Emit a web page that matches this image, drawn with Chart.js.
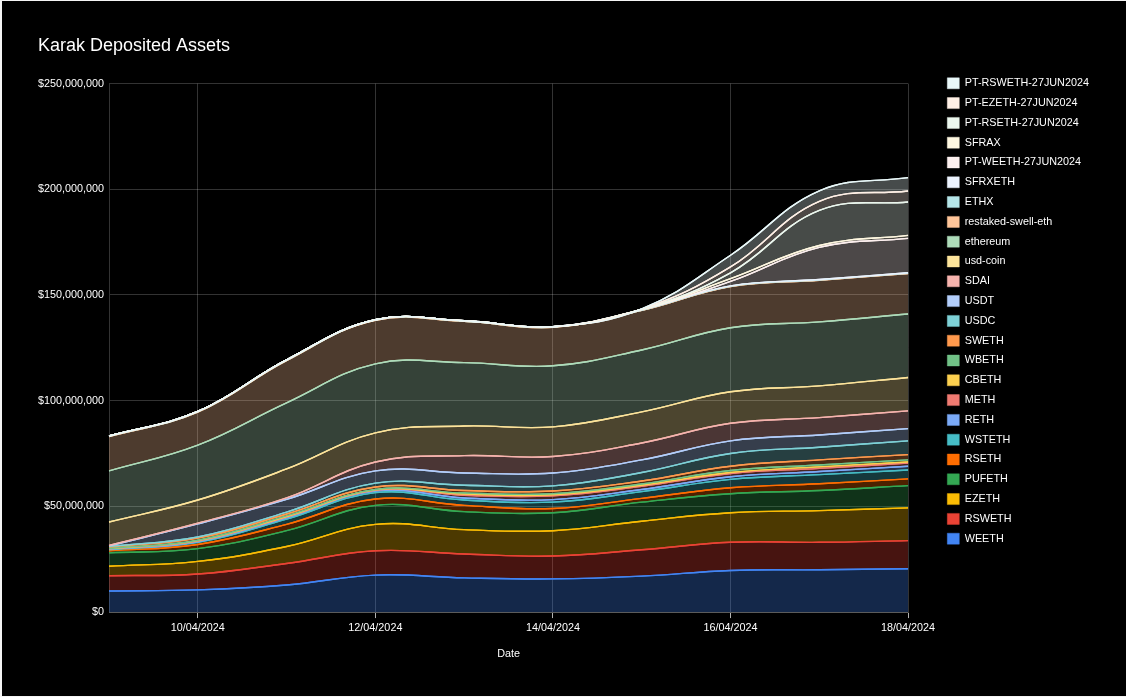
<!DOCTYPE html>
<html lang="en">
<head>
  <meta charset="UTF-8" />
  <title>Karak Deposited Assets</title>
  <script src="https://cdn.jsdelivr.net/npm/chart.js"></script>
  <style>
    html, body { margin: 0; background: #f4f4f4; overflow: hidden; }
    #wrap { position: absolute; left: 2px; top: 1px; width: 1124px; height: 695px; background: #000; }
    canvas { display: block; }
  </style>
</head>
<body>
  <div id="wrap"><canvas id="karakChart" width="1124" height="695"></canvas></div>

  <script>
    const dates = ["09/04/2024", "10/04/2024", "11/04/2024", "12/04/2024", "13/04/2024", "14/04/2024", "15/04/2024", "16/04/2024", "17/04/2024", "18/04/2024"];
    const yTicks = ["$0", "$50,000,000", "$100,000,000", "$150,000,000", "$200,000,000", "$250,000,000"];

    // deposited value per asset, in millions of dollars
    const WEETH = [10, 10.5, 12.8, 17.5, 16.2, 15.7, 17, 19.7, 20, 20.5];
    const RSWETH = [7.2, 7.5, 10.2, 11.5, 11.3, 10.8, 12.5, 13.3, 13, 13.3];
    const EZETH = [4.5, 6, 8, 12.5, 11.5, 12, 13.5, 14, 15, 15.5];
    const PUFETH = [6.3, 6, 7.5, 9, 8.5, 8.5, 9, 9, 9.5, 10.5];
    const RSETH = [1, 2, 3, 3, 3, 2, 1.8, 2.8, 3.2, 3.2];
    const WSTETH = [0.5, 1, 2.5, 3, 2.5, 3, 3.2, 4, 4.3, 4.2];
    const RETH = [0.2, 0.3, 0.6, 0.8, 1, 1.2, 1, 1.2, 1.5, 1.8];
    const METH = [0.2, 0.3, 0.4, 0.3, 1.3, 1.8, 1.5, 1.5, 1.5, 1.5];
    const CBETH = [0.1, 0.2, 0.2, 0.2, 0.5, 0.5, 0.5, 0.5, 0.7, 0.5];
    const WBETH = [0.1, 0.2, 0.3, 0.2, 0.5, 0.5, 0.6, 1, 0.9, 1];
    const SWETH = [0.7, 1, 0.9, 1.2, 1.2, 1.3, 1.4, 2, 2.4, 2.5];
    const USDC = [0.2, 0.5, 0.9, 1.8, 2.5, 2.4, 4, 6, 6, 6.5];
    const USDT = [0.3, 6.2, 6, 5.8, 5.8, 6.1, 6, 6, 5.8, 5.8];
    const SDAI = [0.2, 0.3, 0.7, 4.2, 8.2, 7.8, 8, 8.3, 8.2, 8.4];
    const usdCoin = [11.1, 11, 13.7, 13.8, 14, 14, 14.7, 14.9, 15, 15.8];
    const ethereum = [24.2, 26, 31.3, 32.6, 30, 28.9, 29.3, 30.3, 30.3, 30];
    const restakedSwell = [16.2, 15.6, 20, 20.6, 19.5, 18.2, 18.7, 19.5, 19.7, 19.2];
    const ETHX = [0.1, 0.1, 0.1, 0.1, 0.1, 0.1, 0.1, 0.1, 0.1, 0.1];
    const SFRXETH = [0.2, 0.2, 0.2, 0.2, 0.2, 0.2, 0.2, 0.2, 0.2, 0.2];
    const ptWeeth = [0, 0, 0, 0, 0, 0, 0.1, 2.1, 15.2, 16.3];
    const SFRAX = [0, 0, 0, 0, 0, 0, 0.05, 1.3, 0.9, 1.4];
    const ptRseth = [0, 0, 0, 0, 0, 0, 0.1, 2.8, 16.6, 15.8];
    const ptEzeth = [0, 0, 0, 0, 0, 0, 0.1, 2.8, 4.3, 5.2];
    const ptRsweth = [0, 0, 0, 0, 0, 0, 0.1, 5.5, 5, 6.3];

    const series = [
      ["WEETH", WEETH, "#4285F4"],
      ["RSWETH", RSWETH, "#EA4335"],
      ["EZETH", EZETH, "#FBBC04"],
      ["PUFETH", PUFETH, "#34A853"],
      ["RSETH", RSETH, "#FF6D01"],
      ["WSTETH", WSTETH, "#46BDC6"],
      ["RETH", RETH, "#7BAAF7"],
      ["METH", METH, "#F07B72"],
      ["CBETH", CBETH, "#FCD04F"],
      ["WBETH", WBETH, "#71C287"],
      ["SWETH", SWETH, "#FF994D"],
      ["USDC", USDC, "#7ED1D7"],
      ["USDT", USDT, "#B3CEFB"],
      ["SDAI", SDAI, "#F7B4AE"],
      ["usd-coin", usdCoin, "#FDE49B"],
      ["ethereum", ethereum, "#AEDCBA"],
      ["restaked-swell-eth", restakedSwell, "#FFC599"],
      ["ETHX", ETHX, "#B5E5E8"],
      ["SFRXETH", SFRXETH, "#ECF3FE"],
      ["PT-WEETH-27JUN2024", ptWeeth, "#FDF0EF"],
      ["SFRAX", SFRAX, "#FFF8E1"],
      ["PT-RSETH-27JUN2024", ptRseth, "#EBF7EE"],
      ["PT-EZETH-27JUN2024", ptEzeth, "#FFF0E6"],
      ["PT-RSWETH-27JUN2024", ptRsweth, "#E9F8F9"]
    ];

    function withAlpha(hex, alpha) {
      const n = parseInt(hex.slice(1), 16);
      return `rgba(${n >> 16}, ${(n >> 8) & 255}, ${n & 255}, ${alpha})`;
    }

    const fontFamily = '"Liberation Sans", Arial, sans-serif';
    const gridColor = "rgba(255, 255, 255, 0.2)";

    // moves the legend to the spot it has in the original
    const legendSpot = {
      id: "legendSpot",
      afterLayout(chart) {
        const legend = chart.legend;
        legend.left = 936.5;
        legend.right = 1124;
        legend.top = 68;
        legend.width = legend.right - legend.left;
      }
    };

    // the library paints the first series last, the original has the later series on top
    const linesOnTop = {
      id: "linesOnTop",
      afterDatasetsDraw(chart) {
        const area = chart.chartArea;
        chart.ctx.save();
        chart.ctx.beginPath();
        chart.ctx.rect(area.left, area.top, area.right - area.left, area.bottom - area.top);
        chart.ctx.clip();
        chart.data.datasets.forEach((ds, i) => chart.getDatasetMeta(i).dataset.draw(chart.ctx, area));
        chart.ctx.restore();
      }
    };

    new Chart(document.getElementById("karakChart"), {
      type: "line",
      data: {
        labels: dates,
        datasets: series.map(([label, values, color], i) => ({
          label,
          data: values.map(v => v * 1000000),
          borderColor: color,
          backgroundColor: withAlpha(color, 0.3),
          borderWidth: 1.4,
          pointRadius: 0,
          tension: 0.4,
          fill: i === 0 ? "origin" : "-1"
        }))
      },
      options: {
        responsive: false,
        animation: false,
        layout: { padding: { left: 36, right: 57.5, top: 26, bottom: 35 } },
        plugins: {
          title: {
            display: true,
            text: "Karak Deposited Assets",
            align: "start",
            color: "#fff",
            font: { family: fontFamily, size: 18, weight: "normal" },
            padding: { top: 8, bottom: 27 }
          },
          legend: {
            position: "right",
            align: "start",
            reverse: true,
            labels: {
              color: "#fff",
              font: { family: fontFamily, size: 10.8 },
              boxWidth: 12,
              boxHeight: 11,
              padding: 8.8,
              generateLabels(chart) {
                return Chart.defaults.plugins.legend.labels.generateLabels(chart).map(item => {
                  const color = series[item.datasetIndex][2];
                  item.fillStyle = color;
                  item.strokeStyle = withAlpha(color, 0.4);
                  item.lineWidth = 1;
                  return item;
                });
              }
            }
          },
          tooltip: { enabled: false }
        },
        scales: {
          x: {
            title: {
              display: true,
              text: "Date",
              color: "#fff",
              font: { family: fontFamily, size: 10.8 },
              padding: { top: 11, bottom: 0 }
            },
            grid: {
              color: ctx => (ctx.index % 2 === 1 ? gridColor : "transparent"),
              tickColor: ctx => (ctx.index % 2 === 1 ? "rgba(255, 255, 255, 0.7)" : "transparent"),
              tickLength: 6
            },
            border: { color: gridColor },
            ticks: {
              color: "#fff",
              font: { family: fontFamily, size: 10.8 },
              autoSkip: false,
              maxRotation: 0,
              padding: 3,
              callback(value, index) {
                return index % 2 === 1 ? dates[index] : "";
              }
            }
          },
          y: {
            stacked: true,
            min: 0,
            max: 250000000,
            afterFit(scale) { scale.width = 71; },
            grid: { color: gridColor, tickLength: 0 },
            border: { color: gridColor },
            ticks: {
              color: "#fff",
              font: { family: fontFamily, size: 10.8 },
              stepSize: 50000000,
              padding: 5,
              callback: (value) => yTicks[value / 50000000]
            }
          }
        }
      },
      plugins: [legendSpot, linesOnTop]
    });
  </script>
</body>
</html>
